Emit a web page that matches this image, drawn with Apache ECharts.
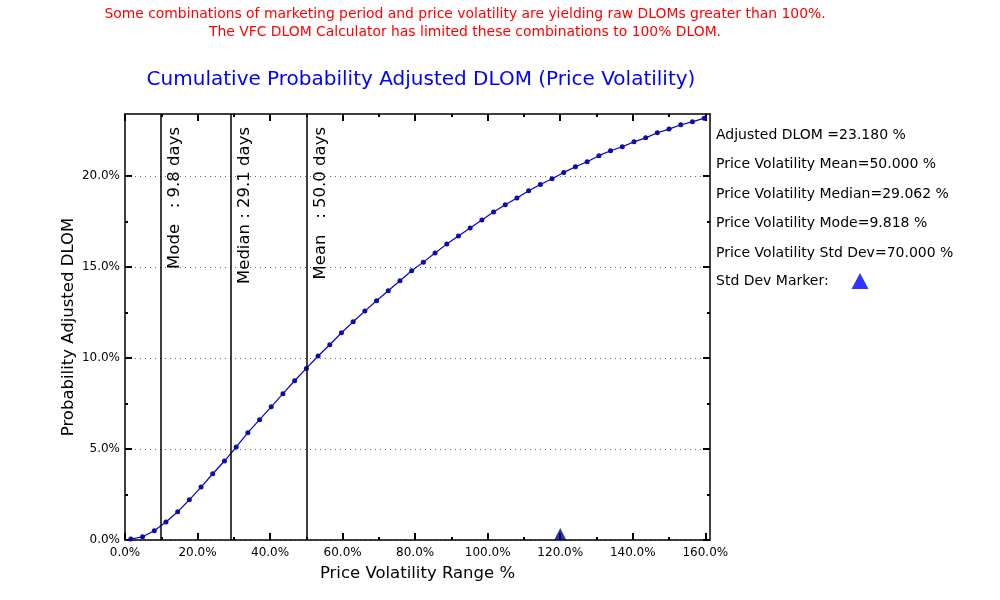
<!DOCTYPE html>
<html>
<head>
<meta charset="utf-8">
<script src="https://cdn.jsdelivr.net/npm/echarts@6/dist/echarts.min.js"></script>
<style>html,body{margin:0;padding:0;background:#fff}#c{width:1000px;height:600px}</style>
</head>
<body>
<div id="c"></div>
<script>
// Price volatility (%) at each plotted point (bin midpoints)
const volatility = [1.61, 4.84, 8.07, 11.29, 14.52, 17.74, 20.97, 24.19, 27.42, 30.65, 33.87, 37.10, 40.32, 43.55, 46.77, 50.00, 53.23, 56.45, 59.68, 62.90, 66.13, 69.35, 72.58, 75.81, 79.03, 82.26, 85.48, 88.71, 91.94, 95.16, 98.39, 101.61, 104.84, 108.06, 111.29, 114.52, 117.74, 120.97, 124.19, 127.42, 130.65, 133.87, 137.10, 140.32, 143.55, 146.77, 150.00, 153.23, 156.45, 159.68];
// Cumulative probability adjusted DLOM (%)
const dlom = [0.05, 0.18, 0.51, 0.99, 1.55, 2.21, 2.91, 3.64, 4.34, 5.11, 5.90, 6.61, 7.32, 8.04, 8.75, 9.43, 10.11, 10.73, 11.39, 11.99, 12.58, 13.15, 13.70, 14.25, 14.80, 15.27, 15.77, 16.26, 16.70, 17.14, 17.58, 18.02, 18.42, 18.79, 19.19, 19.54, 19.85, 20.20, 20.51, 20.79, 21.12, 21.39, 21.61, 21.88, 22.10, 22.38, 22.58, 22.82, 22.98, 23.18];
// Axis ticks
const xMajorTicks = [0, 20, 40, 60, 80, 100, 120, 140, 160];
const xMinorTicks = [10, 30, 50, 70, 90, 110, 130, 150];
const yMajorTicks = [0, 5, 10, 15, 20];
const yMinorTicks = [2.5, 7.5, 12.5, 17.5];
// Reference lines
const refNames = ['Mode   : 9.8 days', 'Median : 29.1 days', 'Mean   : 50.0 days'];
const refValues = [9.818, 29.062, 50.0];
// Std dev marker
const stdMarker = [[120, 0]];
// Side annotation lines
const infoLines = ['Adjusted DLOM =23.180 %', 'Price Volatility Mean=50.000 %', 'Price Volatility Median=29.062 %', 'Price Volatility Mode=9.818 %', 'Price Volatility Std Dev=70.000 %'];
const warningLines = ['Some combinations of marketing period and price volatility are yielding raw DLOMs greater than 100%.', 'The VFC DLOM Calculator has limited these combinations to 100% DLOM.'];
const chartTitle = 'Cumulative Probability Adjusted DLOM (Price Volatility)';

const FONT = 'DejaVu Sans';
const X_MIN = 0, X_MAX = 161.29, Y_MIN = 0, Y_MAX = 23.41;

const chart = echarts.init(document.getElementById('c'), null, {renderer: 'canvas'});

const pct = v => v.toFixed(1) + '%';
const blackLine = {show: true, onZero: false, lineStyle: {color: '#000', width: 1.5}};
const noLine = {show: false, onZero: false};
const ticks = (len, vals) => ({show: true, inside: true, length: len, customValues: vals, lineStyle: {color: '#000', width: 2}});

function xAx(pos, line, len, vals, extra) {
  return Object.assign({type: 'value', min: X_MIN, max: X_MAX, position: pos,
    axisLine: line, axisTick: ticks(len, vals), axisLabel: {show: false}, splitLine: {show: false}}, extra || {});
}
function yAx(pos, line, len, vals, extra) {
  return Object.assign({type: 'value', min: Y_MIN, max: Y_MAX, position: pos,
    axisLine: line, axisTick: ticks(len, vals), axisLabel: {show: false}, splitLine: {show: false}}, extra || {});
}

const option = {
  animation: false,
  backgroundColor: '#fff',
  textStyle: {fontFamily: FONT},
  title: [
    {text: warningLines.join('\n'), left: 460, top: 0, textAlign: 'center',
     textStyle: {color: '#ff0000', fontSize: 13.9, fontWeight: 'normal', fontFamily: FONT, lineHeight: 18}},
    {text: chartTitle, left: 416, top: 65, textAlign: 'center',
     textStyle: {color: '#0000ff', fontSize: 20, fontWeight: 'normal', fontFamily: FONT}}
  ],
  grid: {left: 125, right: 290, top: 114, bottom: 60, containLabel: false},
  legend: {
    left: 716, top: 273, align: 'right', orient: 'vertical', padding: 0,
    data: [{name: 'Std Dev Marker:', icon: 'triangle', itemStyle: {color: '#0000ff'}}],
    itemWidth: 17, itemHeight: 16,
    formatter: n => n + '    ',
    textStyle: {fontFamily: FONT, fontSize: 14, color: '#000'}
  },
  graphic: infoLines.map((t, i) => ({
    type: 'text', left: 716, top: 128 + i * 29.6,
    style: {text: t, font: '14px "' + FONT + '"', fill: '#000'}
  })),
  xAxis: [
    xAx('bottom', blackLine, 7, xMajorTicks, {
      name: 'Price Volatility Range %', nameLocation: 'middle', nameGap: 25,
      nameTextStyle: {fontFamily: FONT, fontSize: 16.5, color: '#000'},
      axisLabel: {show: true, customValues: xMajorTicks, formatter: pct, fontSize: 12, color: '#000', fontFamily: FONT, margin: 7}
    }),
    xAx('bottom', noLine, 3, xMinorTicks),
    xAx('top', blackLine, 7, xMajorTicks),
    xAx('top', noLine, 3, xMinorTicks)
  ],
  yAxis: [
    yAx('left', blackLine, 7, yMajorTicks, {
      name: 'Probability Adjusted DLOM', nameLocation: 'middle', nameGap: 48, nameMoveOverlap: false,
      nameTextStyle: {fontFamily: FONT, fontSize: 16.5, color: '#000'},
      axisLabel: {show: true, customValues: yMajorTicks, formatter: pct, fontSize: 12, color: '#000', fontFamily: FONT, margin: 5},
      splitLine: {show: true, lineStyle: {color: '#666', type: [1, 4], width: 1}}
    }),
    yAx('left', noLine, 3, yMinorTicks),
    yAx('right', blackLine, 7, yMajorTicks),
    yAx('right', noLine, 3, yMinorTicks)
  ],
  series: [
    {
      type: 'line', name: 'DLOM', xAxisIndex: 0, yAxisIndex: 0,
      data: volatility.map((v, i) => [v, dlom[i]]),
      symbol: 'circle', symbolSize: 5, showSymbol: true,
      lineStyle: {color: '#0000dd', width: 1.2},
      itemStyle: {color: '#0c0ca8'},
      z: 3,
      markLine: {
        silent: true, symbol: ['none', 'none'], animation: false,
        lineStyle: {color: '#000', type: 'solid', width: 1.5},
        label: {show: true, position: 'insideEndBottom', fontFamily: FONT, fontSize: 16.5, color: '#000', distance: [13, 6]},
        data: refValues.map((v, i) => ({xAxis: v, label: {formatter: refNames[i]}}))
      }
    },
    {
      type: 'scatter', name: 'Std Dev Marker:', xAxisIndex: 0, yAxisIndex: 0,
      data: stdMarker, symbol: 'triangle', symbolSize: [12, 12], symbolOffset: [0, -6],
      itemStyle: {color: '#000080'}, clip: false, z: 5
    }
  ]
};
chart.setOption(option);
</script>
</body>
</html>
